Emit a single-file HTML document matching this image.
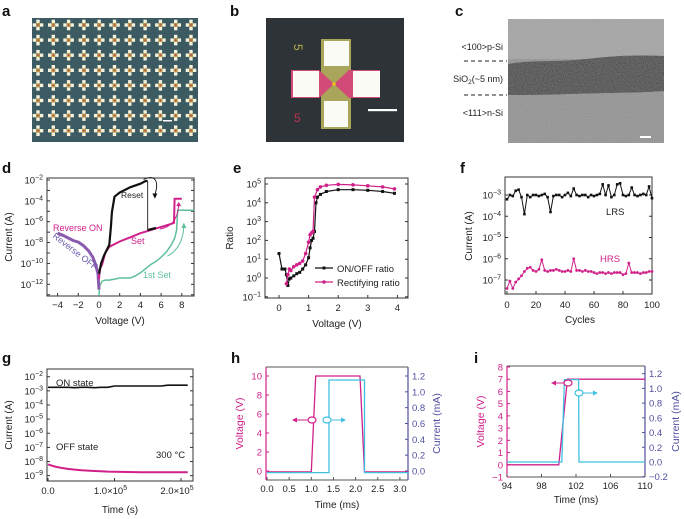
<!DOCTYPE html>
<html><head><meta charset="utf-8"><style>
html,body{margin:0;padding:0;background:#fff;}
svg{display:block;font-family:"Liberation Sans",Arial,sans-serif;}
</style></head><body>
<svg id="fig" width="685" height="519" viewBox="0 0 685 519">
<defs>
<filter id="noise" x="0" y="0" width="100%" height="100%"><feTurbulence type="fractalNoise" baseFrequency="0.9" numOctaves="2" seed="3"/><feColorMatrix type="matrix" values="0 0 0 0 0.5  0 0 0 0 0.5  0 0 0 0 0.5  0 0 0 0.55 0"/><feComposite in2="SourceGraphic" operator="in"/></filter>
</defs>
</svg>
<script>
// ---------- data ----------
const dRevV=[-4,-3.5,-3,-2.5,-2,-1.5,-1,-0.6,-0.3,-0.1,0];
const dRevLog=[-7.1,-7.3,-7.55,-7.8,-7.95,-8.3,-8.8,-9.4,-10.2,-11.0,-12.5];
const dOnV=[0,0.2,0.5,0.8,1,1.15,1.25,1.5,2,3,4,4.5,4.7];
const dOnLog=[-11,-10,-9.2,-8.6,-8.2,-6.5,-5.1,-3.6,-3.2,-2.7,-2.35,-2.1,-2.1];
const dHrsV=[4.7,5.5];
const dHrsLog=[-6.8,-6.6];
const dSetV=[0,0.1,0.3,0.6,1,2,3,4,5,6,7,7.25,7.3,8];
const dSetLog=[-11.5,-10.5,-10.1,-9.0,-8.4,-7.9,-7.5,-7.1,-6.8,-6.5,-6.2,-6.1,-3.8,-3.8];
const d1stV=[0,0.05,0.3,0.6,1,1.5,2,2.5,3,3.5,4,4.5,5,5.5,6,6.5,7,7.3,7.5,7.6,8,8.5,9.2];
const d1stLog=[-13.1,-12.2,-11.7,-11.6,-11.6,-11.5,-11.4,-11.4,-11.4,-11.2,-10.9,-10.5,-10.1,-9.8,-9.4,-8.9,-8.2,-7.6,-6.8,-4.9,-4.9,-4.9,-4.9];
const dXTicks=[-4,-2,0,2,4,6,8];
const dYExp=[-2,-4,-6,-8,-10,-12];

const eOnV=[0,0.1,0.2,0.25,0.3,0.35,0.4,0.5,0.6,0.7,0.8,0.9,1.0,1.05,1.1,1.15,1.2,1.25,1.3,1.4,1.6,2,2.5,3,3.5,3.9];
const eOnVal=[20,3,3,1.5,0.4,0.9,1,1.3,1.7,2,3,5,12,40,100,130,300,1e4,2e4,2.8e4,4e4,5e4,5e4,4.6e4,4e4,3.2e4];
const eRecV=[0.25,0.3,0.35,0.4,0.5,0.6,0.7,0.8,0.9,1.0,1.05,1.1,1.15,1.2,1.3,1.4,1.6,2,2.5,3,3.5,3.9];
const eRecVal=[0.5,1.5,3,2.5,4,5,6,8,20,80,200,250,300,2e4,5e4,7e4,8.5e4,9.5e4,9e4,8e4,7e4,5.5e4];
const eXTicks=[0,1,2,3,4];
const eYExp=[5,4,3,2,1,0,-1];

const fLrsLog=[-3.2,-3.0,-3.05,-2.8,-2.75,-3.1,-3.9,-3.0,-3.1,-3.0,-3.0,-3.05,-3.0,-2.95,-3.1,-3.8,-3.05,-3.0,-3.0,-3.1,-3.0,-2.9,-3.05,-2.7,-3.0,-3.05,-3.0,-3.0,-3.1,-3.0,-3.05,-3.0,-2.95,-2.5,-3.0,-2.55,-3.1,-3.0,-2.5,-2.45,-3.0,-3.05,-3.0,-2.65,-3.0,-3.05,-3.0,-2.95,-3.0,-2.6,-3.15];
const fHrsLog=[-7.4,-7.05,-7.4,-7.1,-6.95,-6.8,-6.6,-6.45,-6.4,-6.55,-6.6,-6.5,-6.05,-6.55,-6.6,-6.55,-6.55,-6.5,-6.55,-6.6,-6.6,-6.55,-6.6,-6.0,-6.55,-6.55,-6.6,-6.55,-6.6,-6.6,-6.65,-6.7,-6.65,-6.65,-6.7,-6.65,-6.7,-6.65,-6.65,-6.65,-6.75,-6.7,-6.2,-6.65,-6.65,-6.65,-6.7,-6.65,-6.65,-6.6,-6.6];
const fXTicks=[0,20,40,60,80,100];
const fYExp=[-3,-4,-5,-6,-7];

const gT=[0,10,20,30,40,50,60,70,80,90,100,110,120,130,140,150,160,170,180,190,200,210];
const gOnLog=[-2.75,-2.75,-2.75,-2.75,-2.78,-2.75,-2.75,-2.78,-2.75,-2.75,-2.66,-2.66,-2.66,-2.66,-2.66,-2.66,-2.66,-2.66,-2.6,-2.6,-2.6,-2.6];
const gOffLog=[-8.2,-8.35,-8.45,-8.52,-8.57,-8.61,-8.64,-8.67,-8.69,-8.71,-8.72,-8.73,-8.74,-8.75,-8.76,-8.76,-8.76,-8.76,-8.76,-8.76,-8.76,-8.76];
const gXTicks=[0,100,200];
const gXLabels=["0.0","1.0×10","2.0×10"];
const gYExp=[-2,-3,-4,-5,-6,-7,-8,-9];

const hVt=[0,1.0,1.1,2.1,2.2,3.2];
const hV=[-0.1,-0.1,10,10,-0.1,-0.1];
const hIt=[0,1.4,1.4,2.2,2.2,3.2];
const hI=[-0.02,-0.02,1.15,1.15,-0.02,-0.02];
const hXTicks=[0,0.5,1,1.5,2,2.5,3];
const hLTicks=[0,2,4,6,8,10];
const hRTicks=[0,0.2,0.4,0.6,0.8,1.0,1.2];

const iVt=[94,100,101,110];
const iV=[0,0,7,7];
const iIt=[94,100.35,100.65,102.3,102.35,110];
const iI=[0,0,1.12,1.12,0,0];
const iXTicks=[94,98,102,106,110];
const iLTicks=[-1,0,1,2,3,4,5,6,7,8];
const iRTicks=[-0.2,0,0.2,0.4,0.6,0.8,1.0,1.2];

// ---------- helpers ----------
const NS='http://www.w3.org/2000/svg';
const svg=document.getElementById('fig');
function mk(tag,attrs,parent){const e=document.createElementNS(NS,tag);for(const k in attrs)e.setAttribute(k,attrs[k]);(parent||svg).appendChild(e);return e;}
function txt(x,y,s,attrs,parent){const e=mk('text',Object.assign({x:x,y:y,'font-size':9.5,fill:'#222'},attrs||{}),parent);e.textContent=s;return e;}
function supTxt(x,y,base,exp,attrs,parent){const e=mk('text',Object.assign({x:x,y:y,'font-size':9.5,fill:'#222'},attrs||{}),parent);e.appendChild(document.createTextNode(base));const t=mk('tspan',{dy:-4,'font-size':7},e);t.textContent=exp;return e;}
function pts(xs,ys,fx,fy){return xs.map((x,i)=>fx(x).toFixed(1)+','+fy(ys[i]).toFixed(1)).join(' ');}
function frame(x0,y0,x1,y1,g){return mk('rect',{x:x0,y:y0,width:x1-x0,height:y1-y0,fill:'none',stroke:'#333','stroke-width':1},g);}
function letter(x,y,s){return txt(x,y,s,{'font-size':15,'font-weight':'bold',fill:'#111'});}

// ---------- panel letters ----------
const L=[['a',2,16],['b',230,16],['c',455,16],['d',2,173],['e',233,173],['f',460,173],['g',2,363],['h',231,363],['i',474,363]];
L.forEach(p=>{const el=letter(p[1],p[2],p[0]);

});

// ---------- panel a ----------
const ga=mk('g',{});


mk('rect',{x:32,y:18,width:166,height:124,fill:'#3b5a62'},ga);
for(let r=0;r<8;r++)for(let c=0;c<11;c++){const cx=38+c*15.3,cy=25+r*15.1;
 [[-3.6,0],[3.6,0],[0,-3.6],[0,3.6]].forEach(o=>mk('rect',{x:cx+o[0]-1.7,y:cy+o[1]-1.7,width:3.4,height:3.4,fill:'#f6f2dc'},ga));
 mk('rect',{x:cx-1.8,y:cy-1.8,width:3.6,height:3.6,fill:'#c4a040'},ga);
 mk('circle',{cx:cx,cy:cy,r:0.9,fill:'#b04060'},ga);}
mk('rect',{x:163,y:120,width:9,height:1.5,fill:'#fff'},ga);

// ---------- panel b ----------
const gb=mk('g',{});


mk('rect',{x:266,y:18,width:138,height:124,fill:'#2d3336'},gb);
mk('rect',{x:321,y:39,width:30,height:90,fill:'#a9a55a'},gb);
mk('polygon',{points:'319,70 334,84 319,98 291,98 291,70',fill:'#d24a78'},gb);
mk('polygon',{points:'349,70 380,70 380,98 349,98 334,84',fill:'#d24a78'},gb);
mk('rect',{x:324,y:41,width:25,height:25,fill:'#fbfbf6'},gb);
mk('rect',{x:324,y:101,width:24,height:26,fill:'#fbfbf6'},gb);
mk('rect',{x:293,y:71,width:26,height:26,fill:'#fbfbf6'},gb);
mk('rect',{x:353,y:71,width:27,height:26,fill:'#fbfbf6'},gb);
mk('circle',{cx:334,cy:84,r:1.8,fill:'#f0c020'},gb);
txt(0,0,'5',{'font-size':12,fill:'#b9b04a',transform:'translate(294,44) rotate(90)'},gb);
txt(294,122,'5',{'font-size':12,fill:'#c03050'},gb);
mk('rect',{x:368,y:109,width:29,height:2.2,fill:'#fff'},gb);

// ---------- panel c ----------
const gc=mk('g',{});


mk('rect',{x:508,y:19,width:156,height:124,fill:'#8c8c8c'},gc);
mk('rect',{x:508,y:19,width:156,height:40,fill:'#a0a0a0'},gc);
mk('path',{d:'M508,64 C530,60 550,62 575,60 C600,58 620,54 664,56 L664,91 C640,93 600,93 570,94 C540,95 525,95 508,95 Z',fill:'#3e3e3e'},gc);
mk('rect',{x:508,y:19,width:156,height:124,fill:'#888',filter:'url(#noise)'},gc);
mk('rect',{x:640,y:136,width:11,height:2,fill:'#fff'},gc);
[61,95].forEach(y=>mk('line',{x1:464,y1:y,x2:507,y2:y,stroke:'#222','stroke-dasharray':'4,3','stroke-width':1},gc));
txt(503,50,'<100>p-Si',{'font-size':9,'text-anchor':'end'},gc);
const sio=mk('text',{x:503,y:82,'font-size':9,'text-anchor':'end',fill:'#222'},gc);
sio.appendChild(document.createTextNode('SiO'));const sub=mk('tspan',{dy:2,'font-size':6.5},sio);sub.textContent='2';const rest=mk('tspan',{dy:-2},sio);rest.textContent='(~5 nm)';
txt(503,116,'<111>n-Si',{'font-size':9,'text-anchor':'end'},gc);

// ---------- panel d ----------
{const g=mk('g',{});


const X=v=>99+v*10.35, Y=L=>180+(-2-L)*10.43;
frame(47,178,194,296,g);
for(let e=-2;e>=-13;e--){mk('line',{x1:47,y1:Y(e),x2:50,y2:Y(e),stroke:'#333'},g);mk('line',{x1:194,y1:Y(e),x2:191,y2:Y(e),stroke:'#333'},g);}
dYExp.forEach(e=>{const t=supTxt(43,Y(e)+3.5,'10',String(e).replace('-','−'),{'text-anchor':'end'},g);

});
dXTicks.forEach(v=>{mk('line',{x1:X(v),y1:296,x2:X(v),y2:293,stroke:'#333'},g);const t=txt(X(v),308,String(v).replace('-','−'),{'text-anchor':'middle'},g);

});
const yl=txt(0,0,'Current (A)',{'font-size':10,'text-anchor':'middle',transform:'translate(12,237) rotate(-90)'},g);


const xl=txt(120,324,'Voltage (V)',{'font-size':10,'text-anchor':'middle'},g);


const s1=mk('polyline',{points:pts(d1stV,d1stLog,X,Y),fill:'none',stroke:'#5dbf9a','stroke-width':1.5},g);


const s2=mk('polyline',{points:pts(dRevV,dRevLog,X,Y),fill:'none',stroke:'#8a5aae','stroke-width':3},g);


const s3=mk('polyline',{points:pts(dSetV,dSetLog,X,Y),fill:'none',stroke:'#d0208a','stroke-width':2},g);


const s4=mk('polyline',{points:pts(dOnV,dOnLog,X,Y),fill:'none',stroke:'#111','stroke-width':2.2},g);


mk('line',{x1:X(4.7),y1:Y(-2.1),x2:X(4.7),y2:Y(-6.8),stroke:'#333','stroke-width':1},g);
const s5=mk('polyline',{points:pts(dHrsV,dHrsLog,X,Y),fill:'none',stroke:'#111','stroke-width':2.2},g);


mk('path',{d:`M${X(4.3)},${Y(-1.95)} C${X(5.5)},${Y(-1.4)} ${X(5.8)},${Y(-2.2)} ${X(5.4)},${Y(-3.4)}`,fill:'none',stroke:'#111','stroke-width':0.9},g);
mk('polygon',{points:`${X(5.4)-2.5},${Y(-3.3)} ${X(5.4)+2.5},${Y(-3.3)} ${X(5.4)},${Y(-3.8)}`,fill:'#111'},g);
mk('path',{d:`M${X(5.9)},${Y(-6.7)} C${X(7)},${Y(-6.5)} ${X(7.6)},${Y(-5.8)} ${X(7.7)},${Y(-4.4)}`,fill:'none',stroke:'#d0208a','stroke-width':1},g);
mk('polygon',{points:`${X(7.7)-2.5},${Y(-4.5)} ${X(7.7)+2.5},${Y(-4.5)} ${X(7.7)},${Y(-4.1)}`,fill:'#d0208a'},g);
mk('path',{d:`M${X(6.6)},${Y(-9.3)} C${X(7.6)},${Y(-8.8)} ${X(8.1)},${Y(-7.8)} ${X(8.2)},${Y(-6.5)}`,fill:'none',stroke:'#5dbf9a','stroke-width':1},g);
mk('polygon',{points:`${X(8.2)-2.5},${Y(-6.6)} ${X(8.2)+2.5},${Y(-6.6)} ${X(8.2)},${Y(-6.1)}`,fill:'#5dbf9a'},g);
txt(121,198,'Reset',{'font-size':8.5,fill:'#222'},g);
txt(53,231,'Reverse ON',{'font-size':9,fill:'#d0208a'},g);
txt(131,244,'Set',{'font-size':9,fill:'#d0208a'},g);
txt(143,278,'1st Set',{'font-size':9,fill:'#5dbf9a'},g);
txt(0,0,'Reverse OFF',{'font-size':9,fill:'#6a5aae',transform:'translate(52,237) rotate(38)'},g);
}

// ---------- panel e ----------
{const g=mk('g',{});


const X=v=>279+v*29.6, Y=L=>184+(5-L)*18.8, YV=v=>Y(Math.log10(v));
frame(265,178,408,298,g);
eYExp.forEach(e=>{mk('line',{x1:265,y1:Y(e),x2:268,y2:Y(e),stroke:'#333'},g);mk('line',{x1:408,y1:Y(e),x2:405,y2:Y(e),stroke:'#333'},g);const t=supTxt(261,Y(e)+3.5,'10',String(e).replace('-','−'),{'text-anchor':'end'},g);

});
eXTicks.forEach(v=>{mk('line',{x1:X(v),y1:298,x2:X(v),y2:295,stroke:'#333'},g);const t=txt(X(v),311,String(v),{'text-anchor':'middle'},g);

});
txt(0,0,'Ratio',{'font-size':10,'text-anchor':'middle',transform:'translate(233,238) rotate(-90)'},g);
txt(337,327,'Voltage (V)',{'font-size':10,'text-anchor':'middle'},g);
const a=mk('polyline',{points:pts(eOnV,eOnVal,X,YV),fill:'none',stroke:'#111','stroke-width':1.2},g);


eOnV.forEach((v,i)=>{const m=mk('rect',{x:X(v)-1.5,y:YV(eOnVal[i])-1.5,width:3,height:3,fill:'#111'},g);

});
const b=mk('polyline',{points:pts(eRecV,eRecVal,X,YV),fill:'none',stroke:'#d0208a','stroke-width':1.2},g);


eRecV.forEach((v,i)=>{const m=mk('circle',{cx:X(v),cy:YV(eRecVal[i]),r:1.8,fill:'#d0208a'},g);

});
const l1=mk('g',{},g);


mk('line',{x1:315,y1:268,x2:333,y2:268,stroke:'#111','stroke-width':1.2},l1);mk('rect',{x:322.5,y:266.5,width:3,height:3,fill:'#111'},l1);txt(337,272,'ON/OFF ratio',{'font-size':9.5},l1);
const l2=mk('g',{},g);


mk('line',{x1:315,y1:282,x2:333,y2:282,stroke:'#d0208a','stroke-width':1.2},l2);mk('circle',{cx:324,cy:282,r:1.8,fill:'#d0208a'},l2);txt(337,286,'Rectifying ratio',{'font-size':9.5},l2);
}

// ---------- panel f ----------
{const g=mk('g',{});


const X=c=>507+c*1.45, Y=L=>195+(-3-L)*21.25;
frame(505,177,652,294,g);
fYExp.forEach(e=>{mk('line',{x1:505,y1:Y(e),x2:508,y2:Y(e),stroke:'#333'},g);mk('line',{x1:652,y1:Y(e),x2:649,y2:Y(e),stroke:'#333'},g);const t=supTxt(501,Y(e)+3.5,'10',String(e).replace('-','−'),{'text-anchor':'end'},g);

});
fXTicks.forEach(v=>{mk('line',{x1:X(v),y1:294,x2:X(v),y2:291,stroke:'#333'},g);const t=txt(X(v),308,String(v),{'text-anchor':'middle'},g);

});
txt(0,0,'Current (A)',{'font-size':10,'text-anchor':'middle',transform:'translate(472,236) rotate(-90)'},g);
txt(580,323,'Cycles',{'font-size':10,'text-anchor':'middle'},g);
const cyc=fLrsLog.map((_,i)=>i*2);
const a=mk('polyline',{points:pts(cyc,fLrsLog,X,Y),fill:'none',stroke:'#111','stroke-width':1},g);


cyc.forEach((c,i)=>{const m=mk('rect',{x:X(c)-1.3,y:Y(fLrsLog[i])-1.3,width:2.6,height:2.6,fill:'#111'},g);

});
const cyc2=fHrsLog.map((_,i)=>i*2);
const b=mk('polyline',{points:pts(cyc2,fHrsLog,X,Y),fill:'none',stroke:'#d0208a','stroke-width':1},g);


cyc2.forEach((c,i)=>{const m=mk('circle',{cx:X(c),cy:Y(fHrsLog[i]),r:1.4,fill:'#d0208a'},g);

});
txt(606,215,'LRS',{'font-size':9.5},g);
txt(600,262,'HRS',{'font-size':9.5,fill:'#d0208a'},g);
}

// ---------- panel g ----------
{const g=mk('g',{});


const X=t=>48+t*0.665, Y=L=>376.7+(-2-L)*14.14;
frame(47,369,193,481,g);
gYExp.forEach(e=>{mk('line',{x1:47,y1:Y(e),x2:50,y2:Y(e),stroke:'#333'},g);mk('line',{x1:193,y1:Y(e),x2:190,y2:Y(e),stroke:'#333'},g);const t=supTxt(43,Y(e)+3.5,'10',String(e).replace('-','−'),{'text-anchor':'end'},g);

});
gXTicks.forEach((v,i)=>{mk('line',{x1:X(v),y1:481,x2:X(v),y2:478,stroke:'#333'},g);const t=i===0?txt(X(v),494,gXLabels[i],{'text-anchor':'middle'},g):supTxt(X(v)-4,494,gXLabels[i],'5',{'text-anchor':'middle'},g);

});
txt(0,0,'Current (A)',{'font-size':10,'text-anchor':'middle',transform:'translate(12,425) rotate(-90)'},g);
txt(120,513,'Time (s)',{'font-size':10,'text-anchor':'middle'},g);
const a=mk('polyline',{points:pts(gT,gOnLog,X,Y),fill:'none',stroke:'#111','stroke-width':1.6},g);


const b=mk('polyline',{points:pts(gT,gOffLog,X,Y),fill:'none',stroke:'#d0208a','stroke-width':2},g);


txt(56,386,'ON state',{'font-size':9.5},g);
txt(56,450,'OFF state',{'font-size':9.5},g);
txt(156,458,'300 °C',{'font-size':9.5},g);
}

// ---------- dual axis helper for h, i ----------
function dual(name,x0,y0,x1,y1,X,YL,YR,xt,lt,rt,vt,v,it,iv,xlab,ylx,yrx,fmtX){
 const g=mk('g',{});
 
 
 mk('line',{x1:x0,y1:y0,x2:x1,y2:y0,stroke:'#555'},g);
 mk('line',{x1:x0,y1:y1,x2:x1,y2:y1,stroke:'#555'},g);
 mk('line',{x1:x0,y1:y0,x2:x0,y2:y1,stroke:'#d0208a','stroke-width':1.2},g);
 mk('line',{x1:x1,y1:y0,x2:x1,y2:y1,stroke:'#5050a0','stroke-width':1.2},g);
 lt.forEach(t=>{mk('line',{x1:x0,y1:YL(t),x2:x0+3,y2:YL(t),stroke:'#d0208a'},g);const e=txt(x0-4,YL(t)+3.5,String(t).replace('-','−'),{'text-anchor':'end',fill:'#d0208a'},g);
 
 });
 rt.forEach(t=>{mk('line',{x1:x1,y1:YR(t),x2:x1-3,y2:YR(t),stroke:'#5050a0'},g);const e=txt(x1+4,YR(t)+3.5,t.toFixed(1).replace('-','−'),{fill:'#5050a0'},g);
 
 });
 xt.forEach(t=>{mk('line',{x1:X(t),y1:y1,x2:X(t),y2:y1-3,stroke:'#555'},g);const e=txt(X(t),y1+12,fmtX(t),{'text-anchor':'middle'},g);
 
 });
 const a=mk('polyline',{points:pts(vt,v,X,YL),fill:'none',stroke:'#d0208a','stroke-width':1.3},g);
 
 
 const b=mk('polyline',{points:pts(it,iv,X,YR),fill:'none',stroke:'#3fbfe0','stroke-width':1.3},g);
 
 
 txt((x0+x1)/2,xlab,'Time (ms)',{'font-size':10,'text-anchor':'middle'},g);
 txt(0,0,'Voltage (V)',{'font-size':10.5,'text-anchor':'middle',fill:'#d0208a',transform:`translate(${ylx},${(y0+y1)/2}) rotate(-90)`},g);
 txt(0,0,'Current (mA)',{'font-size':10.5,'text-anchor':'middle',fill:'#5050a0',transform:`translate(${yrx},${(y0+y1)/2}) rotate(-90)`},g);
 return g;}
function arrowPair(g,cx1,cy1,ax1,cx2,cy2,ax2){
 mk('line',{x1:cx1,y1:cy1,x2:ax1+3,y2:cy1,stroke:'#d0208a'},g);mk('polygon',{points:`${ax1},${cy1} ${ax1+5},${cy1-2.5} ${ax1+5},${cy1+2.5}`,fill:'#d0208a'},g);
 mk('ellipse',{cx:cx1,cy:cy1,rx:4,ry:3,fill:'#fff',stroke:'#d0208a','stroke-width':1.2},g);
 mk('line',{x1:cx2,y1:cy2,x2:ax2-3,y2:cy2,stroke:'#3fbfe0'},g);mk('polygon',{points:`${ax2},${cy2} ${ax2-5},${cy2-2.5} ${ax2-5},${cy2+2.5}`,fill:'#3fbfe0'},g);
 mk('ellipse',{cx:cx2,cy:cy2,rx:4,ry:3,fill:'#fff',stroke:'#3fbfe0','stroke-width':1.2},g);}

// ---------- panel h ----------
{const X=t=>267+t*44.3, YL=v=>471-v*9.5, YR=c=>471-c*79.17;
const g=dual('panel-h-pulse-chart',266,367,408,480,X,YL,YR,hXTicks,hLTicks,hRTicks,hVt,hV,hIt,hI,508,243,440,t=>t.toFixed(1));
arrowPair(g,312,420,292,327,420,346);}

// ---------- panel i ----------
{const X=t=>507+(t-94)*8.625, YL=v=>367+(8-v)*12.22, YR=c=>462-c*73.6;
const g=dual('panel-i-pulse-chart',507,366,645,477,X,YL,YR,iXTicks,iLTicks,iRTicks,iVt,iV,iIt,iI,503,484,679,t=>String(t));
arrowPair(g,568,383,551,579,393,598);}
</script>
</body></html>
